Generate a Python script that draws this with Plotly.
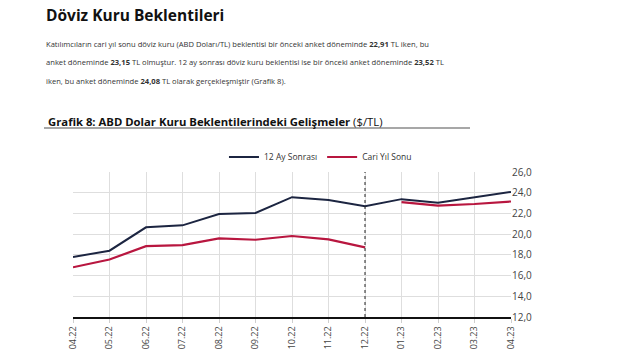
import plotly.graph_objects as go

months = ["04.22", "05.22", "06.22", "07.22", "08.22", "09.22", "10.22",
          "11.22", "12.22", "01.23", "02.23", "03.23", "04.23"]
ay12_sonrasi = [17.8, 18.4, 20.66, 20.85, 21.95, 22.05, 23.57, 23.3, 22.7,
                23.38, 23.02, 23.52, 24.08]
cari_yil_sonu_2022 = [16.8, 17.55, 18.84, 18.94, 19.59, 19.46, 19.82, 19.5, 18.72,
                      None, None, None, None]
cari_yil_sonu_2023 = [None, None, None, None, None, None, None, None, None,
                      23.1, 22.76, 22.91, 23.15]
y_ticks = [12, 14, 16, 18, 20, 22, 24, 26]
year_break = "12.22"

NAVY = "#1c2541"
RED = "#b8163f"

OFF = 8  # page body margin
FW, FH = 640 - OFF, 360 - OFF
L, R, T, B = 73 - OFF, 511 - OFF, 172 - OFF, 317 - OFF
W, H = R - L, B - T


def px(x):
    return (x - OFF - L) / W


def py(y):
    return (B - (y - OFF)) / H


fig = go.Figure()
fig.add_trace(go.Scatter(x=months, y=ay12_sonrasi, mode="lines", name="12 Ay Sonrası",
                         line=dict(color=NAVY, width=2)))
fig.add_trace(go.Scatter(x=months, y=cari_yil_sonu_2022, mode="lines", name="Cari Yıl Sonu",
                         line=dict(color=RED, width=2.2), connectgaps=False))
fig.add_trace(go.Scatter(x=months, y=cari_yil_sonu_2023, mode="lines", name="Cari Yıl Sonu",
                         line=dict(color=RED, width=2.2), showlegend=False, connectgaps=False))

fig.add_shape(type="line", xref="x", yref="paper", x0=months.index(year_break),
              x1=months.index(year_break), y0=0, y1=1, layer="above",
              line=dict(color="#222", width=1, dash="dot"))
fig.add_shape(type="line", xref="paper", yref="paper", x0=px(44), x1=px(470),
              y0=py(128), y1=py(128), line=dict(color="#8a8a8a", width=1.5))

para_font = dict(family="Open Sans, sans-serif", size=7.6, color="#333")
ann = [
    dict(text="<b>Döviz Kuru Beklentileri</b>", x=px(44), y=py(15),
         font=dict(family="Open Sans", size=15.5, color="#111")),
    dict(text="Katılımcıların cari yıl sonu döviz kuru (ABD Doları/TL) beklentisi bir önceki anket döneminde <b>22,91</b> TL iken, bu",
         x=px(44), y=py(44), font=para_font),
    dict(text="anket döneminde <b>23,15</b> TL olmuştur. 12 ay sonrası döviz kuru beklentisi ise bir önceki anket döneminde <b>23,52</b> TL",
         x=px(44), y=py(62), font=para_font),
    dict(text="iken, bu anket döneminde <b>24,08</b> TL olarak gerçekleşmiştir (Grafik 8).",
         x=px(44), y=py(81), font=para_font),
    dict(text="<b>Grafik 8: ABD Dolar Kuru Beklentilerindeki Gelişmeler</b> ($/TL)",
         x=px(46), y=py(121), font=dict(family="Open Sans", size=11.3, color="#111")),
]
for a in ann:
    fig.add_annotation(xref="paper", yref="paper", xanchor="left", yanchor="middle",
                       showarrow=False, **a)

fig.update_layout(
    width=FW, height=FH,
    margin=dict(l=L, r=FW - R, t=T, b=FH - B),
    paper_bgcolor="white", plot_bgcolor="white",
    separators=",.",
    font=dict(family="Open Sans", color="#333"),
    showlegend=True,
    legend=dict(orientation="h", x=0.565, xanchor="center", y=py(157), yanchor="middle",
                font=dict(size=8.5, color="#333"), bgcolor="rgba(0,0,0,0)",
                itemwidth=30, tracegroupgap=0),
)
fig.update_xaxes(type="category", tickangle=-90, showgrid=True, gridcolor="#dedede",
                 gridwidth=1, showline=True, linecolor="#111", linewidth=1.5,
                 ticks="outside", ticklen=4, tickcolor="#cfcfcf",
                 tickfont=dict(size=9, color="#444"), range=[0, 12], zeroline=False)
fig.update_yaxes(range=[12, 26], tickvals=y_ticks, tickformat=".1f", side="right",
                 showgrid=True, gridcolor="#dedede", gridwidth=1, showline=False,
                 tickfont=dict(size=10, color="#444"), zeroline=False, ticks="")

fig.write_html("out.html")
